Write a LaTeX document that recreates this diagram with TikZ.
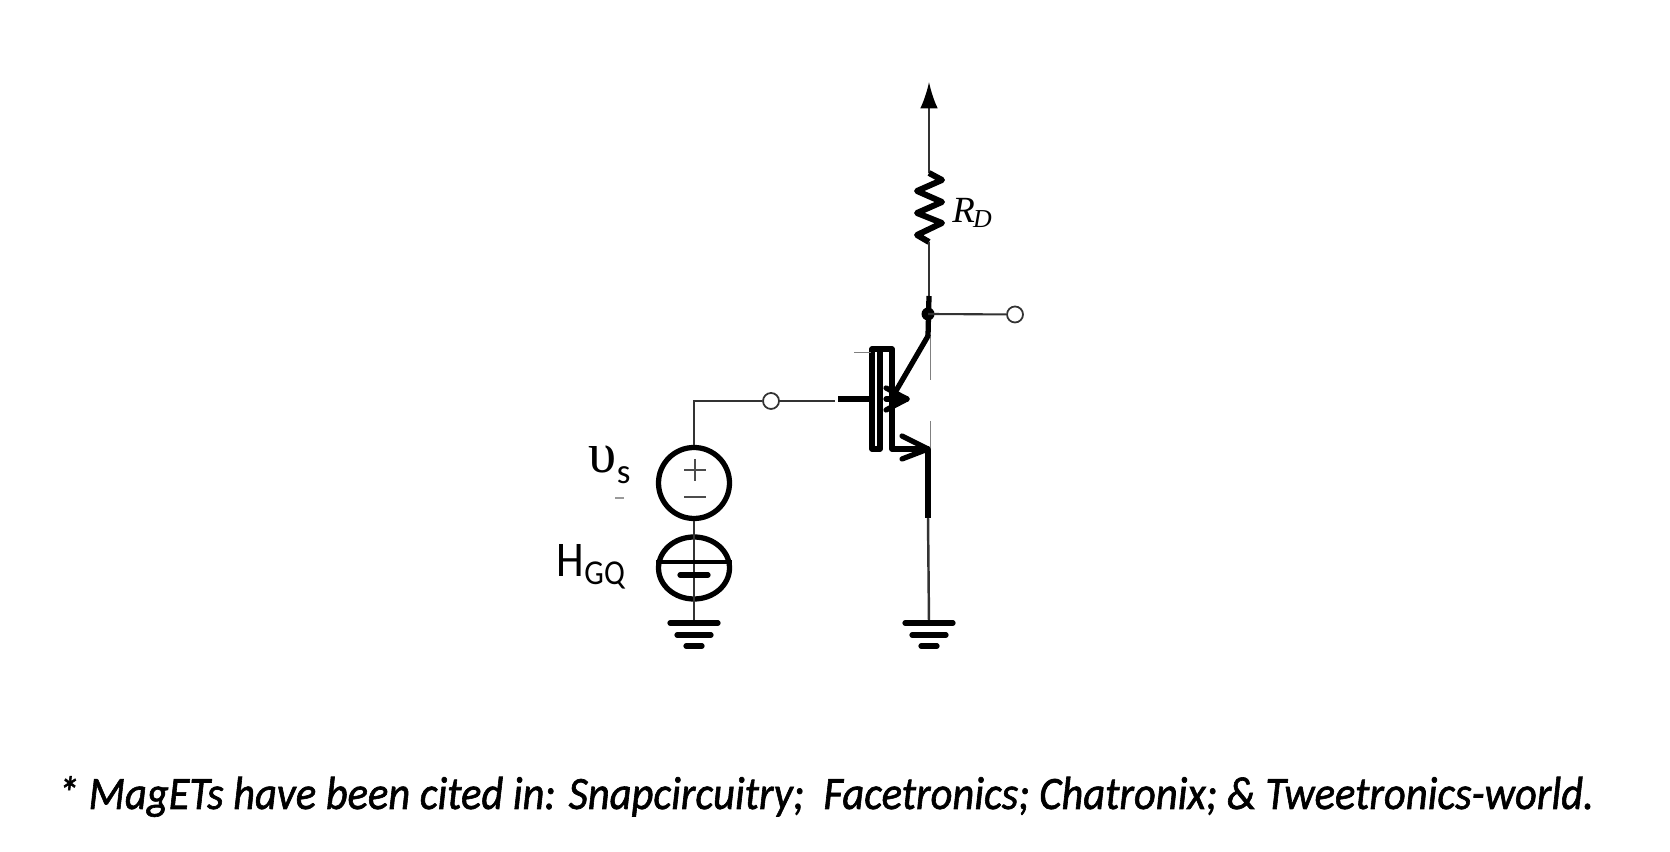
\documentclass[tikz,border=0pt]{standalone}
\usepackage{fontspec}
\setmainfont{Carlito}
\newfontfamily\serifont{Liberation Serif}
\newfontfamily\notefont[FakeBold=1.4]{Carlito}
\usetikzlibrary{arrows.meta,shapes.geometric}
\tikzset{
	thinwire/.style={line width=0.6pt, draw=black!80},
	heavy/.style={line width=1.5pt, line cap=round, line join=round},
	gndbar/.style={line width=1.5pt, line cap=round},
	terminal/.style={circle, draw=black!80, line width=0.5pt, fill=white, inner sep=0pt, minimum size=1.6mm},
	source/.style={circle, draw, line width=1.5pt, inner sep=0pt, minimum size=7.1mm}
}
\begin{document}
\begin{tikzpicture}[x=0.1mm, y=-0.1mm]
	\useasboundingbox (0,0) rectangle (1670,852);
	% nodes of the circuit
	\node [terminal] (vout) at (1015,314.5) {};
	\node [terminal] (vin) at (771,401) {};
	\node [source] (vs) at (694,483) {};
	\node [ellipse, draw, line width=1.5pt, inner sep=0pt, minimum width=7.1mm, minimum height=6.2mm] (hgq) at (694,568) {};
	\coordinate (rail) at (929,82);
	\coordinate (rtop) at (929,173);
	\coordinate (rbot) at (929,242);
	\coordinate (drain) at (929,296);
	\coordinate (dnode) at (928,314);
	\coordinate (dend) at (928,336);
	\coordinate (source) at (928,449);
	\coordinate (send) at (928,518);
	\coordinate (gnda) at (929,623);
	\coordinate (gndb) at (694,623);
	\coordinate (corner) at (694,401);
	\coordinate (gatein) at (838,399);
	\coordinate (gatepl) at (871,399);
	\coordinate (tip) at (907,399);
	% supply and load
	\draw [thinwire, -{Latex[length=7.5pt, width=5pt, black]}] (rtop) -- (rail);
	\draw [line width=1.7pt, line join=round] (rtop) -- (942,180) -- (917,191) -- (942,202) -- (917,213) -- (942,223) -- (917,235) -- (rbot);
	\draw [thinwire] (rbot) -- (drain);
	\node [font=\serifont\itshape, scale=1.05] (rd) at (973,213) {R\textsubscript{\kern-0.5pt D}};
	% channel
	\draw [heavy, line cap=butt] (drain) -- (dend);
	\fill (dnode) circle [radius=0.65mm];
	\draw [thinwire] (dnode) -- (vout);
	\draw [black!50, line width=0.25pt] (930,336) -- (930,380) (930,421) -- (930,449);
	\draw [heavy, line cap=butt] (source) -- (send);
	\draw [thinwire, line width=0.7pt] (send) -- (gnda);
	% gate stack
	\draw [heavy] (872,349) rectangle (880,449);
	\draw [heavy] (880,349) -- (892,349) -- (892,449) -- (source);
	\draw [heavy] (902,436) -- (source) -- (902,459);
	\draw [black!50, line width=0.25pt] (854,352) -- (871,352);
	\draw [thinwire] (vin) -- (835,401);
	\draw [heavy, line cap=butt] (gatein) -- (gatepl);
	\draw [heavy] (dend) -- (893,396);
	\draw [heavy] (886,399) -- (tip);
	\draw [heavy] (886,388) -- (tip) -- (886,410);
	\fill (892,388) -- (tip) -- (892,410) -- cycle;
	% input side
	\draw [thinwire] (vin) -- (corner) -- (vs);
	\draw [thinwire, line width=0.7pt] (vs) -- (hgq);
	\draw [thinwire, line width=0.7pt] (hgq.north) -- (hgq.south) -- (gndb);
	\draw [line width=1.3pt] (hgq.west |- 0,562) -- (hgq.east |- 0,562);
	\draw [gndbar] (680,575) -- (708,575);
	\draw [black!70, line width=0.4pt] (684,470) -- (706,470) (695,459) -- (695,481) (684,497) -- (706,497);
	\draw [black!40, line width=0.4pt] (615,498) -- (624,498);
	% grounds
	\foreach \gnd/\cx in {gnda/929, gndb/694} {
		\draw [gndbar] (\cx-24,623) -- (\cx+24,623);
		\draw [gndbar] (\cx-17,635) -- (\cx+17,635);
		\draw [gndbar] (\cx-8,646) -- (\cx+8,646);
	}
	% labels
	\node [scale=1.24, inner sep=0pt, anchor=base west] (vslabel) at (588,473) {{\serifont\fontsize{13}{13}\selectfont υ}\raisebox{-2.5pt}{\fontsize{8}{8}\selectfont s}};
	\node [xscale=1.26, yscale=1.42, inner sep=0pt, anchor=base west] (hlabel) at (556,577) {H\textsubscript{GQ}};
	\node [anchor=base west, inner sep=0pt, font=\notefont\itshape, xscale=1.21, yscale=1.32] (note) at (57,809) {* MagETs have been cited in: Snapcircuitry;~ Facetronics; Chatronix; \& Tweetronics-world.};
\end{tikzpicture}
\end{document}
